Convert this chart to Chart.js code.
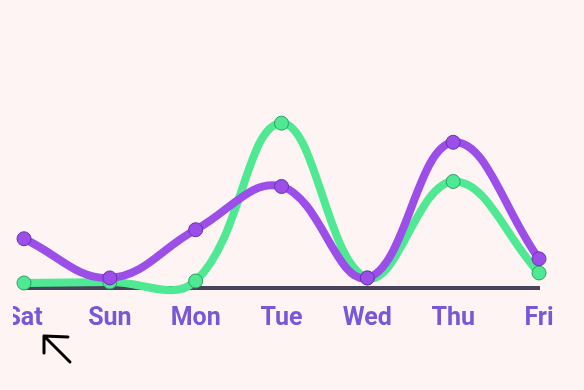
<!DOCTYPE html>
<html>
<head>
<meta charset="utf-8">
<script src="https://cdn.jsdelivr.net/npm/chart.js@4.4.1/dist/chart.umd.min.js"></script>
<style>
  html, body { margin: 0; padding: 0; background: #fef4f3; }
  #wrap { width: 584px; height: 390px; position: relative; }
</style>
</head>
<body>
<div id="wrap"><canvas id="weekChart" width="584" height="390"></canvas></div>
<script>
const days = ['Sat', 'Sun', 'Mon', 'Tue', 'Wed', 'Thu', 'Fri'];
const purpleValues = [24.5, 5, 29, 50.5, 5, 72.5, 14.5];
const greenValues = [2.5, 3, 3.5, 82, 5, 53, 7.5];

const bg = '#fef4f3';

// left edge of the picture cuts into the first label, plus a mouse pointer
const extras = {
    id: 'extras',
    afterDraw(chart) {
        const ctx = chart.ctx;
        ctx.save();
        ctx.fillStyle = bg;
        ctx.fillRect(0, 295, 13, 45);
        ctx.strokeStyle = '#000';
        ctx.lineWidth = 3;
        ctx.lineCap = 'round';
        ctx.beginPath();
        ctx.moveTo(70, 362);
        ctx.lineTo(44, 336);
        ctx.moveTo(44, 336);
        ctx.lineTo(68, 337);
        ctx.moveTo(44, 336);
        ctx.lineTo(44, 353);
        ctx.stroke();
        ctx.restore();
    }
};

const ctx = document.getElementById('weekChart').getContext('2d');
new Chart(ctx, {
    type: 'line',
    data: {
        labels: days,
        datasets: [
            {
                label: 'Purple',
                data: purpleValues,
                borderColor: '#9b4ee8',
                borderWidth: 8,
                pointRadius: 7,
                pointBackgroundColor: '#9b4ee8',
                pointBorderColor: '#6b2fae',
                pointBorderWidth: 1,
                tension: 0.4,
                capBezierPoints: false,
                clip: false
            },
            {
                label: 'Green',
                data: greenValues,
                borderColor: '#4fe994',
                borderWidth: 8,
                pointRadius: 7,
                pointBackgroundColor: '#4fe994',
                pointBorderColor: '#2f9d62',
                pointBorderWidth: 1,
                tension: 0.4,
                capBezierPoints: false,
                clip: false
            }
        ]
    },
    options: {
        responsive: false,
        animation: false,
        layout: { padding: { left: 24, right: 45, top: 87, bottom: 48 } },
        plugins: { legend: { display: false }, tooltip: { enabled: false } },
        scales: {
            x: {
                offset: false,
                grid: { display: false },
                border: { display: true, color: '#46435a', width: 4 },
                ticks: {
                    color: '#7957d6',
                    font: { family: 'Roboto', size: 25, weight: 'bold' },
                    padding: 8
                },
                afterFit(scale) {
                    scale.paddingLeft = 0;
                    scale.paddingRight = 0;
                }
            },
            y: {
                display: false,
                min: 0,
                max: 100
            }
        }
    },
    plugins: [extras]
});
</script>
</body>
</html>
